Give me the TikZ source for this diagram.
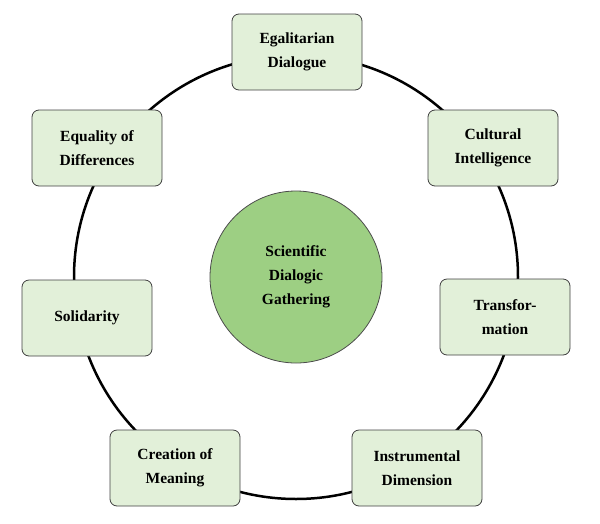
\documentclass[tikz,border=0pt]{standalone}
\usepackage{fontspec}
\setmainfont{Liberation Serif}
\definecolor{boxfill}{HTML}{E2F0D9}
\definecolor{hubfill}{HTML}{9DCF83}
\begin{document}
\begin{tikzpicture}[x=1pt,y=-1pt, line join=round, line cap=round,
  font=\fontsize{15.5}{24}\selectfont\bfseries,
  pillar/.style={draw=black!75, line width=0.8pt, fill=boxfill, rounded corners=7pt,
    minimum width=130pt, minimum height=76pt, align=center},
  hub/.style={draw=black!70, line width=0.8pt, fill=hubfill, circle,
    minimum size=172pt, align=center}]
  \useasboundingbox (0,0) rectangle (600,523);
  %ring
  \draw[line width=2.5pt] (296,277) circle (222);
  \node[hub] (sdg) at (296,277) {Scientific\\Dialogic\\Gathering};
  \node[pillar] (ed) at (297,52) {Egalitarian\\Dialogue};
  \node[pillar] (ci) at (493,148) {Cultural\\Intelligence};
  \node[pillar] (tr) at (505,317) {Transfor-\\mation};
  \node[pillar] (id) at (417,468) {Instrumental\\Dimension};
  \node[pillar] (cm) at (175,468) {Creation of\\Meaning};
  \node[pillar] (so) at (87,318) {Solidarity};
  \node[pillar] (eq) at (97,148) {Equality of\\Differences};
\end{tikzpicture}
\end{document}
